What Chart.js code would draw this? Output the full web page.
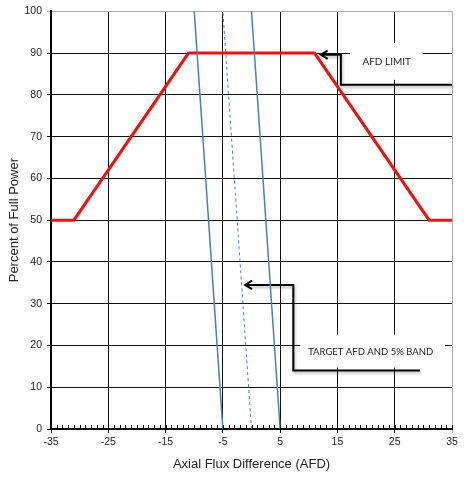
<!DOCTYPE html>
<html>
<head>
<meta charset="utf-8">
<script src="https://cdn.jsdelivr.net/npm/chart.js@4.4.1/dist/chart.umd.min.js"></script>
<style>
    html, body { margin: 0; padding: 0; background: #fff; }
    #wrap { width: 474px; height: 477px; }
</style>
</head>
<body>
<div id="wrap"><canvas id="afdChart" width="474" height="477"></canvas></div>
<script>
// axis ticks
const xTicks = [-35, -25, -15, -5, 5, 15, 25, 35];
const yTicks = [0, 10, 20, 30, 40, 50, 60, 70, 80, 90, 100];

// AFD limit envelope (red)
const limitAfd = [-35, -31, -11, 11, 31, 35];
const limitPower = [50, 50, 90, 90, 50, 50];

// target AFD and 5% band (blue)
const bandPower = [0, 100];
const bandLowAfd = [-5, -10];
const bandHighAfd = [5, 0];
const targetAfd = [0, -5];

// callout arrows (AFD, power)
const limitArrowAfd = [35, 15.6, 15.6, 12.1];
const limitArrowPower = [82.4, 82.4, 89.6, 89.6];
const targetArrowAfd = [29.4, 7.3, 7.3, -1.1];
const targetArrowPower = [14.0, 14.0, 34.5, 34.5];

// callout labels
const labelTexts = ["AFD LIMIT", "TARGET AFD AND 5% BAND"];
const labelAfd = [23.6, 20.8];
const labelPower = [87.8, 18.4];

function toPoints(xs, ys) {
    return xs.map((x, i) => ({ x: x, y: ys[i] }));
}

document.addEventListener("DOMContentLoaded", function () {
    const ctx = document.getElementById("afdChart").getContext("2d");

    const calloutPlugin = {
        id: "callouts",
        beforeDatasetsDraw(chart) {
            const c = chart.ctx;
            const xs = chart.scales.x;
            const ys = chart.scales.y;
            // white boxes behind the label text
            const boxes = [[17.2, 29.9, 92.4, 83.6], [8.5, 33.8, 22.6, 14.7]];
            c.save();
            c.fillStyle = "#fff";
            boxes.forEach((b) => {
                const x0 = xs.getPixelForValue(b[0]);
                const x1 = xs.getPixelForValue(b[1]);
                const y0 = ys.getPixelForValue(b[2]);
                const y1 = ys.getPixelForValue(b[3]);
                c.fillRect(x0, y0, x1 - x0, y1 - y0);
            });
            c.fillStyle = "#222";
            c.textAlign = "center";
            c.textBaseline = "middle";
            const sizes = [10, 9.5];
            labelTexts.forEach((t, i) => {
                c.font = sizes[i] + "px Lato, 'Open Sans', sans-serif";
                c.fillText(t, xs.getPixelForValue(labelAfd[i]), ys.getPixelForValue(labelPower[i]));
            });
            c.restore();
        },
        beforeDatasetDraw(chart, args) {
            if (chart.data.datasets[args.index].arrow) {
                chart.ctx.save();
                chart.ctx.shadowColor = "rgba(0,0,0,0.3)";
                chart.ctx.shadowBlur = 3;
                chart.ctx.shadowOffsetX = 1;
                chart.ctx.shadowOffsetY = 2;
            }
        },
        afterDatasetDraw(chart, args) {
            const ds = chart.data.datasets[args.index];
            if (!ds.arrow) {
                return;
            }
            chart.ctx.restore();
            const c = chart.ctx;
            const pts = args.meta.data;
            const a = pts[pts.length - 2];
            const b = pts[pts.length - 1];
            const ang = Math.atan2(b.y - a.y, b.x - a.x);
            const len = 8;
            c.save();
            c.strokeStyle = "#000";
            c.lineWidth = 2;
            c.beginPath();
            c.moveTo(b.x - len * Math.cos(ang - 0.55), b.y - len * Math.sin(ang - 0.55));
            c.lineTo(b.x, b.y);
            c.lineTo(b.x - len * Math.cos(ang + 0.55), b.y - len * Math.sin(ang + 0.55));
            c.stroke();
            c.restore();
        },
        afterDraw(chart) {
            // minor ticks every 1 AFD along the x axis
            const c = chart.ctx;
            const xs = chart.scales.x;
            const bottom = chart.chartArea.bottom;
            c.save();
            c.strokeStyle = "#000";
            c.lineWidth = 1;
            c.beginPath();
            for (let v = -35; v <= 35; v++) {
                const px = Math.round(xs.getPixelForValue(v)) + 0.5;
                c.moveTo(px, bottom - 4);
                c.lineTo(px, bottom);
            }
            c.stroke();
            c.restore();
        },
    };

    new Chart(ctx, {
        type: "scatter",
        data: {
            datasets: [
                {
                    data: toPoints(bandLowAfd, bandPower),
                    showLine: true,
                    borderColor: "#4a7ebb",
                    borderWidth: 1.5,
                    pointRadius: 0,
                },
                {
                    data: toPoints(bandHighAfd, bandPower),
                    showLine: true,
                    borderColor: "#4a7ebb",
                    borderWidth: 1.5,
                    pointRadius: 0,
                },
                {
                    data: toPoints(targetAfd, bandPower),
                    showLine: true,
                    borderColor: "#4a7ebb",
                    borderWidth: 1,
                    borderDash: [3, 3],
                    pointRadius: 0,
                },
                {
                    data: toPoints(limitAfd, limitPower),
                    showLine: true,
                    borderColor: "#f01010",
                    borderWidth: 3,
                    pointRadius: 0,
                },
                {
                    data: toPoints(limitArrowAfd, limitArrowPower),
                    showLine: true,
                    borderColor: "#000",
                    borderWidth: 2,
                    pointRadius: 0,
                    arrow: true,
                    clip: false,
                },
                {
                    data: toPoints(targetArrowAfd, targetArrowPower),
                    showLine: true,
                    borderColor: "#000",
                    borderWidth: 2,
                    pointRadius: 0,
                    arrow: true,
                    clip: false,
                },
            ],
        },
        options: {
            responsive: false,
            animation: false,
            layout: { padding: { top: 11, right: 22, left: 0, bottom: 0 } },
            plugins: {
                legend: { display: false },
                tooltip: { enabled: false },
            },
            scales: {
                x: {
                    type: "linear",
                    min: -35,
                    max: 35,
                    afterBuildTicks: (scale) => {
                        scale.ticks = xTicks.map((v) => ({ value: v }));
                    },
                    afterFit: (scale) => {
                        scale.height = 48;
                    },
                    grid: {
                        color: (c) => (c.tick && c.tick.value === 35 ? "#aaa" : "#111"),
                        lineWidth: 1,
                        tickLength: 4,
                    },
                    border: { color: "#000", width: 2 },
                    ticks: {
                        color: "#222",
                        font: { family: "'Liberation Sans', Arial, sans-serif", size: 10.5 },
                        padding: 3,
                        maxRotation: 0,
                    },
                    title: {
                        display: true,
                        text: "Axial Flux Difference (AFD)",
                        color: "#222",
                        font: { family: "'Liberation Sans', Arial, sans-serif", size: 13 },
                        padding: { top: 0, bottom: 5 },
                    },
                },
                y: {
                    min: 0,
                    max: 100,
                    afterBuildTicks: (scale) => {
                        scale.ticks = yTicks.map((v) => ({ value: v }));
                    },
                    afterFit: (scale) => {
                        scale.width = 51;
                    },
                    grid: {
                        color: (c) => (c.tick && c.tick.value === 100 ? "#aaa" : "#111"),
                        lineWidth: 1,
                        tickLength: 4,
                    },
                    border: { color: "#000", width: 2 },
                    ticks: {
                        color: "#222",
                        font: { family: "'Liberation Sans', Arial, sans-serif", size: 10.5 },
                        padding: 5,
                    },
                    title: {
                        display: true,
                        text: "Percent of Full Power",
                        color: "#222",
                        font: { family: "'Liberation Sans', Arial, sans-serif", size: 13 },
                        padding: { top: 7, bottom: 0 },
                    },
                },
            },
        },
        plugins: [calloutPlugin],
    });
});
</script>
</body>
</html>
